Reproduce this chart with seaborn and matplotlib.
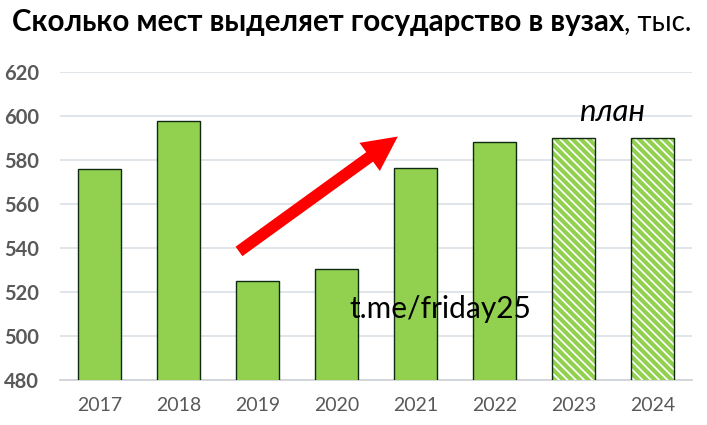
import matplotlib
matplotlib.use("Agg")
import matplotlib.pyplot as plt
import seaborn as sns
import pandas as pd
from matplotlib.patches import FancyArrowPatch, Rectangle

years = ["2017", "2018", "2019", "2020", "2021", "2022", "2023", "2024"]
places = [575.8, 597.6, 525.0, 530.3, 576.5, 588.0, 590.0, 590.0]
is_plan = [False, False, False, False, False, False, True, True]
y_ticks = [480, 500, 520, 540, 560, 580, 600, 620]
title_bold = "Сколько мест выделяет государство в вузах"
title_rest = ", тыс."
plan_label = "план"
watermark = "t.me/friday25"
arrow_from = (1.737, 537.7)
arrow_to = (3.804, 591.4)

sns.set_theme(style="white")
plt.rcParams["font.family"] = ["Lato", "DejaVu Sans"]
plt.rcParams["hatch.linewidth"] = 3.0

GREEN = "#92d050"
EDGE = "#0f2a10"
GRID = "#dde3e8"
TXT = "#595959"

df = pd.DataFrame({"year": years, "value": places, "plan": is_plan})

fig = plt.figure(figsize=(7.07, 4.25), dpi=100)
ax = fig.add_axes([0.0849, 0.1059, 0.8939, 0.7247])

sns.barplot(data=df, x="year", y="value", color=GREEN, saturation=1,
            width=0.545, edgecolor=EDGE, linewidth=1.0, ax=ax, zorder=3)

for patch, plan in zip(ax.patches, is_plan):
    if plan:
        x0, y0 = patch.get_x(), patch.get_y()
        w, h = patch.get_width(), patch.get_height()
        patch.set_facecolor("white")
        patch.set_edgecolor(GREEN)
        patch.set_hatch("\\\\\\\\")
        patch.set_linewidth(0)
        ax.add_patch(Rectangle((x0, y0), w, h, fill=False, edgecolor=EDGE,
                               linewidth=1.0, zorder=4))

ax.set_ylim(y_ticks[0], y_ticks[-1])
ax.set_xlim(-0.5, len(years) - 0.5)
ax.set_yticks(y_ticks)
ax.yaxis.grid(True, color=GRID, linewidth=1.3, zorder=0)
ax.set_axisbelow(True)
for s in ["top", "right", "left"]:
    ax.spines[s].set_visible(False)
ax.spines["bottom"].set_color("#d0d4d8")
ax.spines["bottom"].set_linewidth(1.3)
ax.set_xlabel("")
ax.set_ylabel("")
ax.tick_params(axis="both", length=0)
ax.tick_params(axis="y", pad=15)
ax.tick_params(axis="x", pad=12)
for lab in ax.get_yticklabels():
    lab.set_fontweight("bold")
    lab.set_color(TXT)
    lab.set_fontsize(14.5)
for lab in ax.get_xticklabels():
    lab.set_color(TXT)
    lab.set_fontsize(14)

arrow = FancyArrowPatch(arrow_from, arrow_to,
                        arrowstyle="simple,tail_width=0.42,head_width=1.25,head_length=1.25",
                        mutation_scale=20, color="#ff0000", zorder=6, linewidth=0)
ax.add_patch(arrow)

ax.text(4.32, 508.2, watermark, fontsize=21.5, color="black", ha="center",
        va="baseline", zorder=7)
ax.text(6.49, 597.7, plan_label, fontsize=22.5, style="italic", color="black",
        ha="center", va="baseline", zorder=7)

t1 = fig.text(0.017, 0.948, title_bold, fontsize=21.25, fontweight="bold",
              color="black", ha="left", va="center")
fig.canvas.draw()
bb = t1.get_window_extent()
x_end = bb.x1 / fig.bbox.width
fig.text(x_end, 0.948, title_rest, fontsize=20, color="black",
         ha="left", va="center")

fig.savefig("out.png", dpi=100)
